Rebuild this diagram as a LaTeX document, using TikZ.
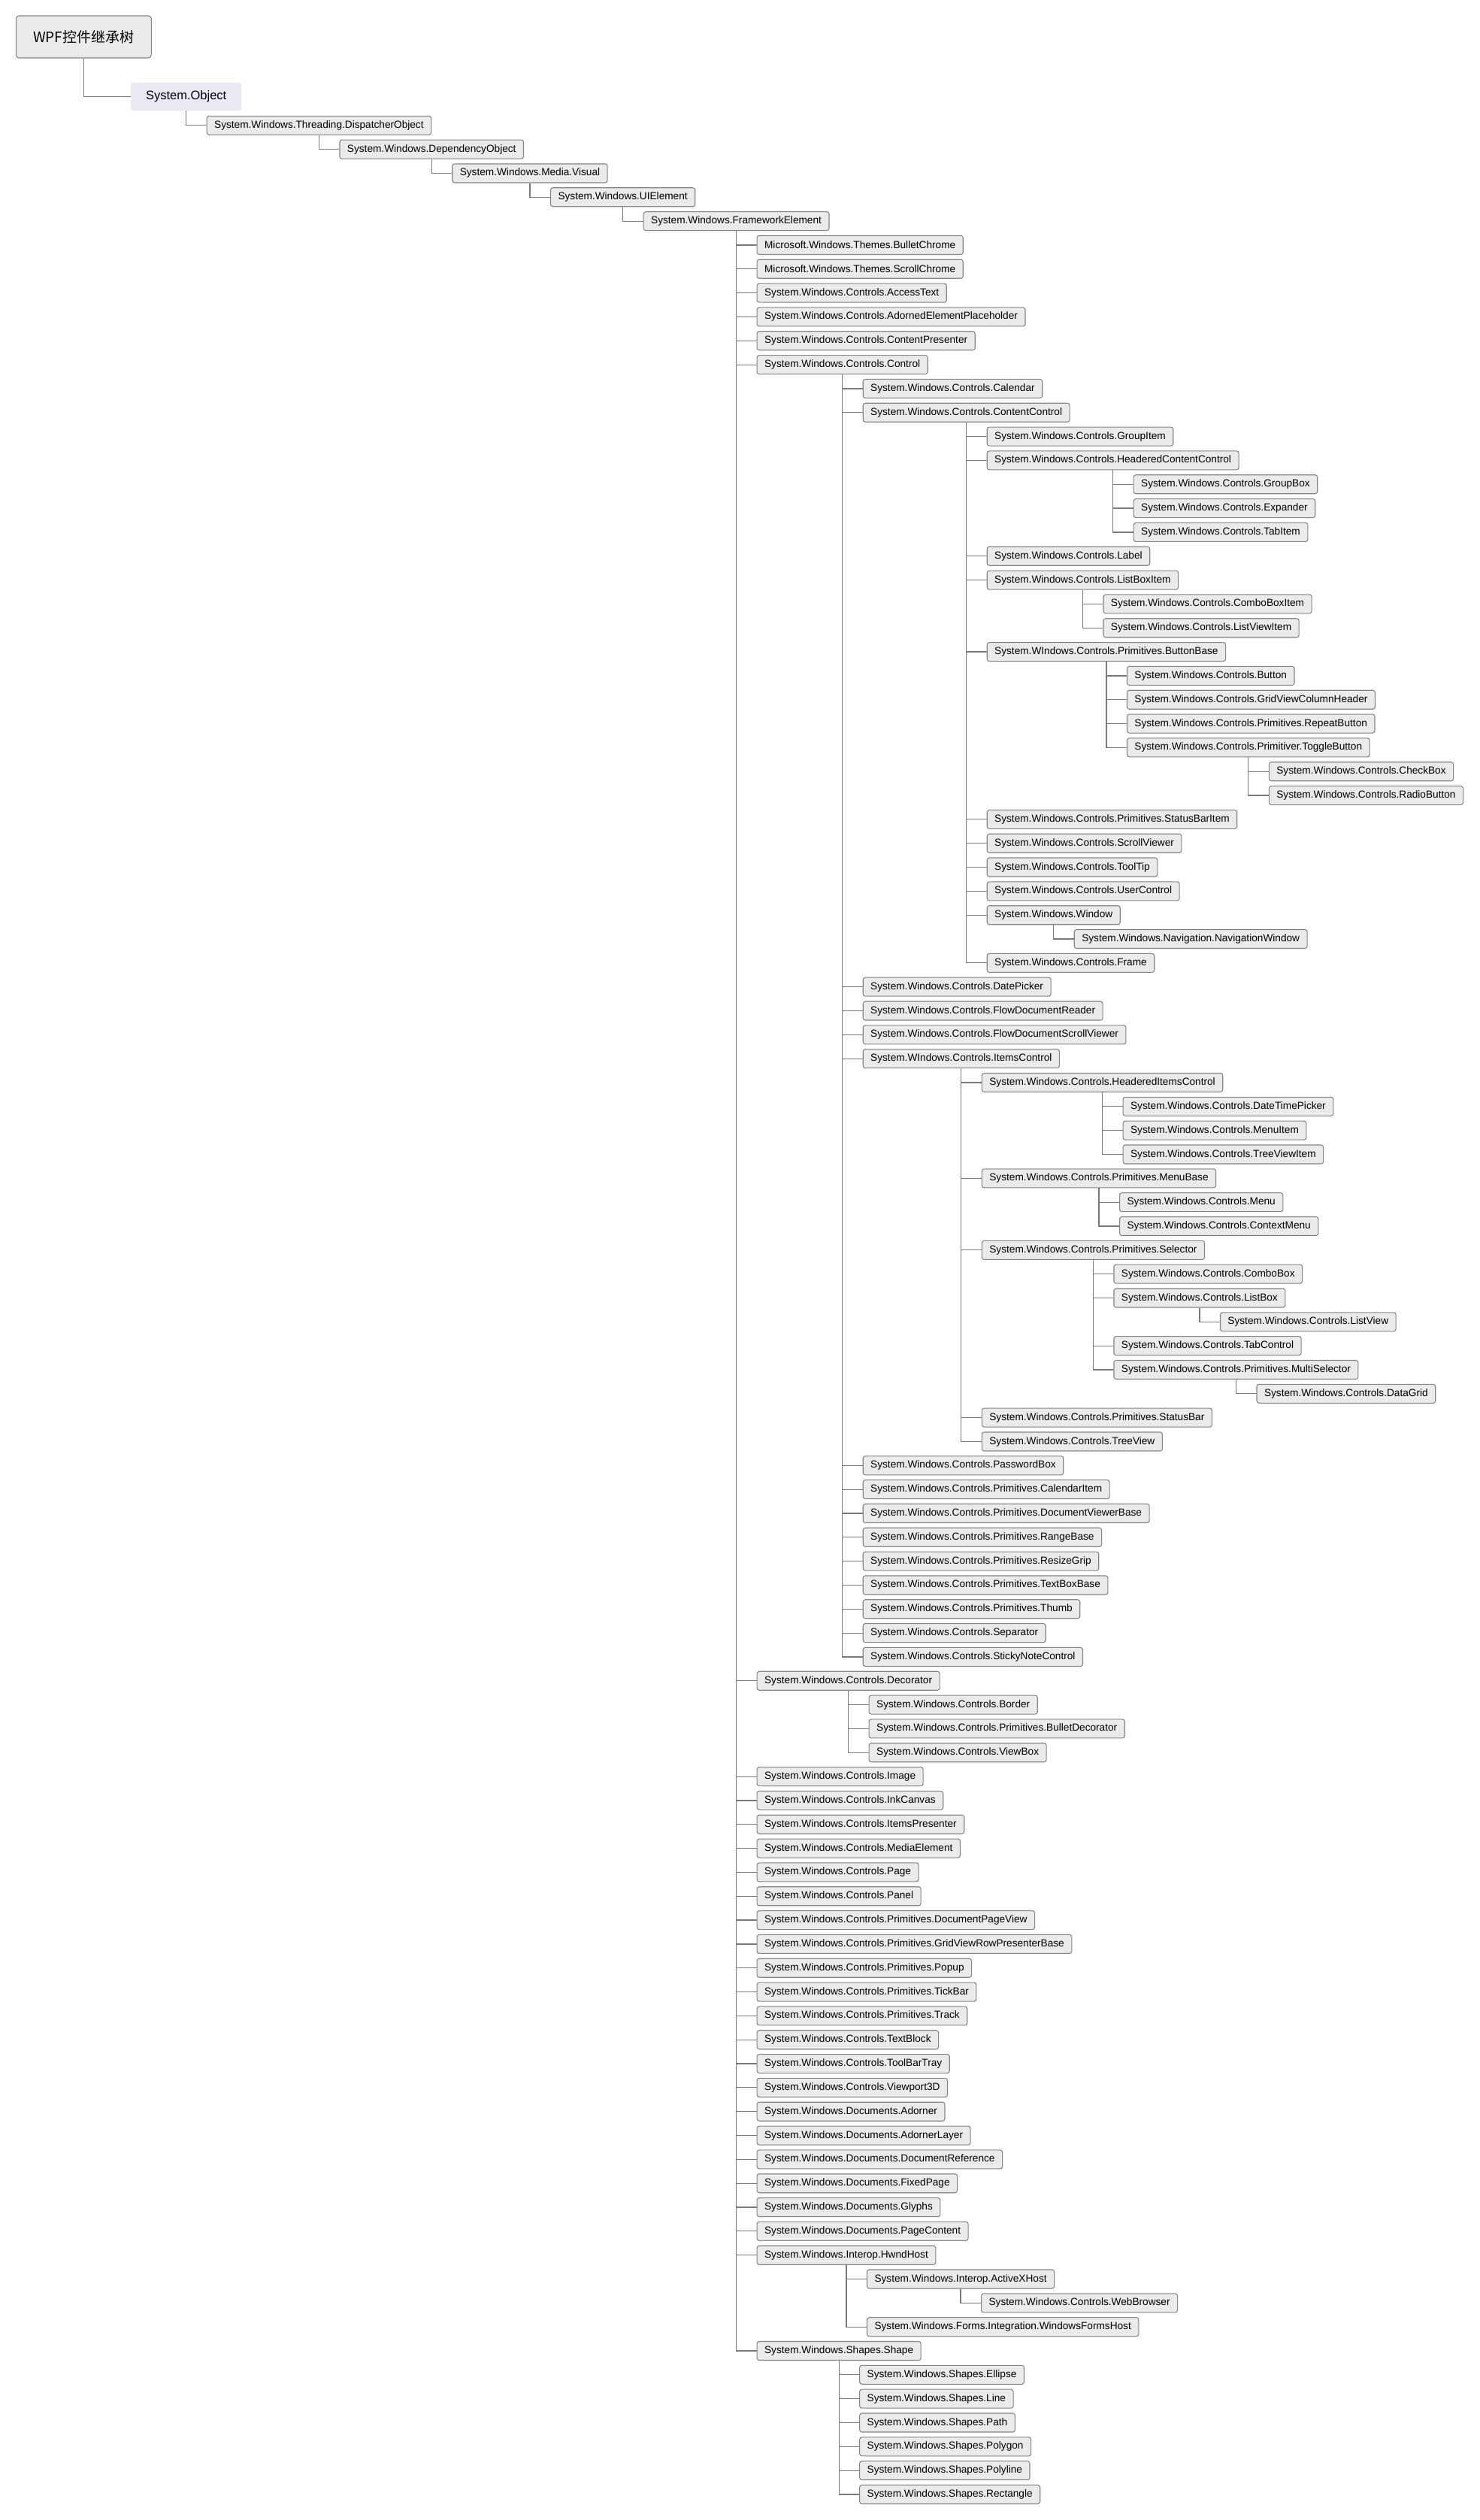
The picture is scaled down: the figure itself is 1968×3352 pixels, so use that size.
\documentclass[tikz,border=0pt]{standalone}
\usepackage{fontspec}
\setmainfont{Liberation Sans}
\newfontfamily\cjk{Noto Sans CJK SC}
\usetikzlibrary{positioning}

\definecolor{boxfill}{HTML}{EBEBEB}
\definecolor{boxline}{HTML}{858585}
\definecolor{objfill}{HTML}{EAEAF5}
\definecolor{linkgray}{HTML}{7A7A7A}

\tikzset{
  cls/.style={draw=boxline, fill=boxfill, rounded corners=3pt, line width=1.1pt,
    minimum height=25pt, inner xsep=10pt, inner ysep=0pt, anchor=west, xshift=27pt,
    font=\fontsize{13.65}{15}\selectfont},
  rootbox/.style={draw=boxline, fill=boxfill, rounded corners=4pt, line width=1.1pt,
    minimum width=180pt, minimum height=56pt, font=\cjk\fontsize{19}{22}\selectfont},
  objbox/.style={fill=objfill, rounded corners=3pt, minimum height=37pt, inner xsep=20pt,
    anchor=west, xshift=62.5pt, font=\fontsize{16.5}{18}\selectfont},
  link/.style={draw=linkgray, line width=1.2pt},
}

\begin{document}
\begin{tikzpicture}[x=1pt, y=-31.83pt]
    \useasboundingbox (0pt,103.14pt) rectangle (1968pt,-3248.86pt);

    \node[rootbox] (root) at (111.3,-1.70) {WPF控件继承树};
    \node[objbox] (sysobj) at (root.center |- 0,0.797) {System.Object};

    \node[cls] (dispobj) at (sysobj.center |- 0,2) {System.Windows.Threading.DispatcherObject};
    \node[cls] (depobj) at (dispobj.center |- 0,3) {System.Windows.DependencyObject};
    \node[cls] (visual) at (depobj.center |- 0,4) {System.Windows.Media.Visual};
    \node[cls] (uielem) at (visual.center |- 0,5) {System.Windows.UIElement};
    \node[cls] (fwelem) at (uielem.center |- 0,6) {System.Windows.FrameworkElement};

    % FrameworkElement
    \node[cls] (bullchrome) at (fwelem.center |- 0,7) {Microsoft.Windows.Themes.BulletChrome};
    \node[cls] (scrollchrome) at (fwelem.center |- 0,8) {Microsoft.Windows.Themes.ScrollChrome};
    \node[cls] (accesstext) at (fwelem.center |- 0,9) {System.Windows.Controls.AccessText};
    \node[cls] (adornph) at (fwelem.center |- 0,10) {System.Windows.Controls.AdornedElementPlaceholder};
    \node[cls] (contpres) at (fwelem.center |- 0,11) {System.Windows.Controls.ContentPresenter};
    \node[cls] (control) at (fwelem.center |- 0,12) {System.Windows.Controls.Control};

    % Control
    \node[cls] (calendar) at (control.center |- 0,13) {System.Windows.Controls.Calendar};
    \node[cls] (contctrl) at (control.center |- 0,14) {System.Windows.Controls.ContentControl};

    % ContentControl
    \node[cls] (groupitem) at (contctrl.center |- 0,15) {System.Windows.Controls.GroupItem};
    \node[cls] (hdrcontent) at (contctrl.center |- 0,16) {System.Windows.Controls.HeaderedContentControl};
    \node[cls] (groupbox) at (hdrcontent.center |- 0,17) {System.Windows.Controls.GroupBox};
    \node[cls] (expander) at (hdrcontent.center |- 0,18) {System.Windows.Controls.Expander};
    \node[cls] (tabitem) at (hdrcontent.center |- 0,19) {System.Windows.Controls.TabItem};
    \node[cls] (label) at (contctrl.center |- 0,20) {System.Windows.Controls.Label};
    \node[cls] (lbitem) at (contctrl.center |- 0,21) {System.Windows.Controls.ListBoxItem};
    \node[cls] (cbitem) at (lbitem.center |- 0,22) {System.Windows.Controls.ComboBoxItem};
    \node[cls] (lvitem) at (lbitem.center |- 0,23) {System.Windows.Controls.ListViewItem};
    \node[cls] (btnbase) at (contctrl.center |- 0,24) {System.WIndows.Controls.Primitives.ButtonBase};
    \node[cls] (button) at (btnbase.center |- 0,25) {System.Windows.Controls.Button};
    \node[cls] (gvcolhdr) at (btnbase.center |- 0,26) {System.Windows.Controls.GridViewColumnHeader};
    \node[cls] (repeatbtn) at (btnbase.center |- 0,27) {System.Windows.Controls.Primitives.RepeatButton};
    \node[cls] (togglebtn) at (btnbase.center |- 0,28) {System.Windows.Controls.Primitiver.ToggleButton};
    \node[cls] (checkbox) at (togglebtn.center |- 0,29) {System.Windows.Controls.CheckBox};
    \node[cls] (radiobtn) at (togglebtn.center |- 0,30) {System.Windows.Controls.RadioButton};
    \node[cls] (sbitem) at (contctrl.center |- 0,31) {System.Windows.Controls.Primitives.StatusBarItem};
    \node[cls] (scrollviewer) at (contctrl.center |- 0,32) {System.Windows.Controls.ScrollViewer};
    \node[cls] (tooltip) at (contctrl.center |- 0,33) {System.Windows.Controls.ToolTip};
    \node[cls] (userctrl) at (contctrl.center |- 0,34) {System.Windows.Controls.UserControl};
    \node[cls] (window) at (contctrl.center |- 0,35) {System.Windows.Window};
    \node[cls] (navwin) at (window.center |- 0,36) {System.Windows.Navigation.NavigationWindow};
    \node[cls] (frame) at (contctrl.center |- 0,37) {System.Windows.Controls.Frame};

    \node[cls] (datepicker) at (control.center |- 0,38) {System.Windows.Controls.DatePicker};
    \node[cls] (fdreader) at (control.center |- 0,39) {System.Windows.Controls.FlowDocumentReader};
    \node[cls] (fdscroll) at (control.center |- 0,40) {System.Windows.Controls.FlowDocumentScrollViewer};
    \node[cls] (itemsctrl) at (control.center |- 0,41) {System.WIndows.Controls.ItemsControl};

    % ItemsControl
    \node[cls] (hdritems) at (itemsctrl.center |- 0,42) {System.Windows.Controls.HeaderedItemsControl};
    \node[cls] (dtpicker) at (hdritems.center |- 0,43) {System.Windows.Controls.DateTimePicker};
    \node[cls] (menuitem) at (hdritems.center |- 0,44) {System.Windows.Controls.MenuItem};
    \node[cls] (tvitem) at (hdritems.center |- 0,45) {System.Windows.Controls.TreeViewItem};
    \node[cls] (menubase) at (itemsctrl.center |- 0,46) {System.Windows.Controls.Primitives.MenuBase};
    \node[cls] (menu) at (menubase.center |- 0,47) {System.Windows.Controls.Menu};
    \node[cls] (ctxmenu) at (menubase.center |- 0,48) {System.Windows.Controls.ContextMenu};
    \node[cls] (selector) at (itemsctrl.center |- 0,49) {System.Windows.Controls.Primitives.Selector};
    \node[cls] (combobox) at (selector.center |- 0,50) {System.Windows.Controls.ComboBox};
    \node[cls] (listbox) at (selector.center |- 0,51) {System.Windows.Controls.ListBox};
    \node[cls] (listview) at (listbox.center |- 0,52) {System.Windows.Controls.ListView};
    \node[cls] (tabctrl) at (selector.center |- 0,53) {System.Windows.Controls.TabControl};
    \node[cls] (multisel) at (selector.center |- 0,54) {System.Windows.Controls.Primitives.MultiSelector};
    \node[cls] (datagrid) at (multisel.center |- 0,55) {System.Windows.Controls.DataGrid};
    \node[cls] (statusbar) at (itemsctrl.center |- 0,56) {System.Windows.Controls.Primitives.StatusBar};
    \node[cls] (treeview) at (itemsctrl.center |- 0,57) {System.Windows.Controls.TreeView};

    \node[cls] (pwdbox) at (control.center |- 0,58) {System.Windows.Controls.PasswordBox};
    \node[cls] (calitem) at (control.center |- 0,59) {System.Windows.Controls.Primitives.CalendarItem};
    \node[cls] (docviewer) at (control.center |- 0,60) {System.Windows.Controls.Primitives.DocumentViewerBase};
    \node[cls] (rangebase) at (control.center |- 0,61) {System.Windows.Controls.Primitives.RangeBase};
    \node[cls] (resizegrip) at (control.center |- 0,62) {System.Windows.Controls.Primitives.ResizeGrip};
    \node[cls] (tbbase) at (control.center |- 0,63) {System.Windows.Controls.Primitives.TextBoxBase};
    \node[cls] (thumb) at (control.center |- 0,64) {System.Windows.Controls.Primitives.Thumb};
    \node[cls] (separator) at (control.center |- 0,65) {System.Windows.Controls.Separator};
    \node[cls] (stickynote) at (control.center |- 0,66) {System.Windows.Controls.StickyNoteControl};

    % Decorator
    \node[cls] (decorator) at (fwelem.center |- 0,67) {System.Windows.Controls.Decorator};
    \node[cls] (border) at (decorator.center |- 0,68) {System.Windows.Controls.Border};
    \node[cls] (bulletdec) at (decorator.center |- 0,69) {System.Windows.Controls.Primitives.BulletDecorator};
    \node[cls] (viewbox) at (decorator.center |- 0,70) {System.Windows.Controls.ViewBox};

    \node[cls] (image) at (fwelem.center |- 0,71) {System.Windows.Controls.Image};
    \node[cls] (inkcanvas) at (fwelem.center |- 0,72) {System.Windows.Controls.InkCanvas};
    \node[cls] (itemspres) at (fwelem.center |- 0,73) {System.Windows.Controls.ItemsPresenter};
    \node[cls] (mediael) at (fwelem.center |- 0,74) {System.Windows.Controls.MediaElement};
    \node[cls] (page) at (fwelem.center |- 0,75) {System.Windows.Controls.Page};
    \node[cls] (panel) at (fwelem.center |- 0,76) {System.Windows.Controls.Panel};
    \node[cls] (docpage) at (fwelem.center |- 0,77) {System.Windows.Controls.Primitives.DocumentPageView};
    \node[cls] (gvrowpres) at (fwelem.center |- 0,78) {System.Windows.Controls.Primitives.GridViewRowPresenterBase};
    \node[cls] (popup) at (fwelem.center |- 0,79) {System.Windows.Controls.Primitives.Popup};
    \node[cls] (tickbar) at (fwelem.center |- 0,80) {System.Windows.Controls.Primitives.TickBar};
    \node[cls] (track) at (fwelem.center |- 0,81) {System.Windows.Controls.Primitives.Track};
    \node[cls] (textblock) at (fwelem.center |- 0,82) {System.Windows.Controls.TextBlock};
    \node[cls] (tbtray) at (fwelem.center |- 0,83) {System.Windows.Controls.ToolBarTray};
    \node[cls] (viewport) at (fwelem.center |- 0,84) {System.Windows.Controls.Viewport3D};
    \node[cls] (adorner) at (fwelem.center |- 0,85) {System.Windows.Documents.Adorner};
    \node[cls] (adornlayer) at (fwelem.center |- 0,86) {System.Windows.Documents.AdornerLayer};
    \node[cls] (docref) at (fwelem.center |- 0,87) {System.Windows.Documents.DocumentReference};
    \node[cls] (fixedpage) at (fwelem.center |- 0,88) {System.Windows.Documents.FixedPage};
    \node[cls] (glyphs) at (fwelem.center |- 0,89) {System.Windows.Documents.Glyphs};
    \node[cls] (pagecont) at (fwelem.center |- 0,90) {System.Windows.Documents.PageContent};

    % HwndHost
    \node[cls] (hwndhost) at (fwelem.center |- 0,91) {System.Windows.Interop.HwndHost};
    \node[cls] (activex) at (hwndhost.center |- 0,92) {System.Windows.Interop.ActiveXHost};
    \node[cls] (webbrowser) at (activex.center |- 0,93) {System.Windows.Controls.WebBrowser};
    \node[cls] (winforms) at (hwndhost.center |- 0,94) {System.Windows.Forms.Integration.WindowsFormsHost};

    % Shape
    \node[cls] (shape) at (fwelem.center |- 0,95) {System.Windows.Shapes.Shape};
    \node[cls] (ellipse) at (shape.center |- 0,96) {System.Windows.Shapes.Ellipse};
    \node[cls] (line) at (shape.center |- 0,97) {System.Windows.Shapes.Line};
    \node[cls] (path) at (shape.center |- 0,98) {System.Windows.Shapes.Path};
    \node[cls] (polygon) at (shape.center |- 0,99) {System.Windows.Shapes.Polygon};
    \node[cls] (polyline) at (shape.center |- 0,100) {System.Windows.Shapes.Polyline};
    \node[cls] (rectangle) at (shape.center |- 0,101) {System.Windows.Shapes.Rectangle};

    % connectors: parent/last child gets the full elbow, the others a stub
    \foreach \p/\c in {root/sysobj, sysobj/dispobj, dispobj/depobj, depobj/visual,
        visual/uielem, uielem/fwelem, fwelem/shape, control/stickynote,
        contctrl/frame, hdrcontent/tabitem, lbitem/lvitem, btnbase/togglebtn,
        togglebtn/radiobtn, window/navwin, itemsctrl/treeview, hdritems/tvitem,
        menubase/ctxmenu, selector/multisel, listbox/listview, multisel/datagrid,
        decorator/viewbox, hwndhost/winforms, activex/webbrowser, shape/rectangle}
        \draw[link] (\p.south) |- (\c.west);
    \foreach \p/\c in {fwelem/bullchrome, fwelem/scrollchrome, fwelem/accesstext,
        fwelem/adornph, fwelem/contpres, fwelem/control, fwelem/decorator,
        fwelem/image, fwelem/inkcanvas, fwelem/itemspres, fwelem/mediael,
        fwelem/page, fwelem/panel, fwelem/docpage, fwelem/gvrowpres, fwelem/popup,
        fwelem/tickbar, fwelem/track, fwelem/textblock, fwelem/tbtray,
        fwelem/viewport, fwelem/adorner, fwelem/adornlayer, fwelem/docref,
        fwelem/fixedpage, fwelem/glyphs, fwelem/pagecont, fwelem/hwndhost,
        control/calendar, control/contctrl, control/datepicker, control/fdreader,
        control/fdscroll, control/itemsctrl, control/pwdbox, control/calitem,
        control/docviewer, control/rangebase, control/resizegrip, control/tbbase,
        control/thumb, control/separator,
        contctrl/groupitem, contctrl/hdrcontent, contctrl/label, contctrl/lbitem,
        contctrl/btnbase, contctrl/sbitem, contctrl/scrollviewer, contctrl/tooltip,
        contctrl/userctrl, contctrl/window,
        hdrcontent/groupbox, hdrcontent/expander, lbitem/cbitem,
        btnbase/button, btnbase/gvcolhdr, btnbase/repeatbtn, togglebtn/checkbox,
        itemsctrl/hdritems, itemsctrl/menubase, itemsctrl/selector, itemsctrl/statusbar,
        hdritems/dtpicker, hdritems/menuitem, menubase/menu,
        selector/combobox, selector/listbox, selector/tabctrl,
        decorator/border, decorator/bulletdec, hwndhost/activex,
        shape/ellipse, shape/line, shape/path, shape/polygon, shape/polyline}
        \draw[link] (\p.south |- \c.west) -- (\c.west);
\end{tikzpicture}
\end{document}
